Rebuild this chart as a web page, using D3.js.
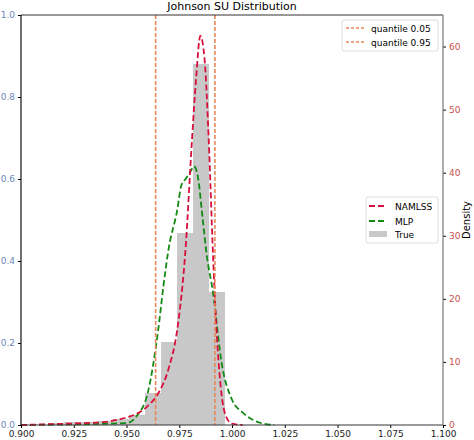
<!DOCTYPE html><html><head><script src="https://d3js.org/d3.v7.min.js"></script>
<style>body{margin:0;background:#fff}text{font-family:"DejaVu Sans",sans-serif}</style></head><body><svg id="c" width="474" height="440"></svg>
<script>
const xTicks=[0.900,0.925,0.950,0.975,1.000,1.025,1.050,1.075,1.100];
const leftTicks=[0.0,0.2,0.4,0.6,0.8,1.0];
const rightTicks=[0,10,20,30,40,50,60];
const binEdges=[0.9130,0.9206,0.9282,0.9358,0.9434,0.9510,0.9586,0.9662,0.9738,0.9814,0.9890,0.9966];
const binHeights=[0.3,0.4,0.5,0.6,1.0,1.6,5.0,13.2,30.4,57.3,21.1];
const namX=[0.90,0.91,0.93,0.94,0.95,0.955,0.96,0.965,0.97,0.974,0.978,0.981,0.983,0.985,0.987,0.989,0.991,0.9925,0.995,0.997,1.0,1.005];
const namY=[0,0.1,0.3,0.5,1.2,1.8,3,5,9,15,28,45,55,61.7,58,45,27,16,5,1.5,0.2,0];
const mlpX=[0.90,0.95,0.955,0.96,0.965,0.9675,0.97,0.974,0.976,0.978,0.980,0.982,0.984,0.986,0.988,0.991,0.995,1.0,1.005,1.01,1.015,1.02];
const mlpY=[0,0.3,1.5,5,15,22,28,34,38,39,40,41,39,33,27,21,10,4,2,0.8,0.2,0];
const quantiles=[0.9638,0.9919];

const svg=d3.select("#c");
const L=21,R=443,T=15,B=425;
const x=d3.scaleLinear().domain([0.9,1.1]).range([L,R]);
const yl=d3.scaleLinear().domain([0,1]).range([B,T]);
const yr=d3.scaleLinear().domain([0,65]).range([B,T]);
const g=svg.append("g").attr("shape-rendering","crispEdges");
binHeights.forEach((h,i)=>g.append("rect").attr("x",x(binEdges[i])).attr("width",x(binEdges[i+1])-x(binEdges[i])+0.5)
 .attr("y",yr(h)).attr("height",B-yr(h)).attr("fill","#c8c8c8"));
const line=d3.line().curve(d3.curveMonotoneX);
svg.append("path").attr("d",line(mlpX.map((v,i)=>[x(v),yr(mlpY[i])]))).attr("fill","none").attr("stroke","#138a13").attr("stroke-width",1.8).attr("stroke-dasharray","6,3");
svg.append("path").attr("d",line(namX.map((v,i)=>[x(v),yr(namY[i])]))).attr("fill","none").attr("stroke","#d6103b").attr("stroke-width",1.8).attr("stroke-dasharray","6,3");
quantiles.forEach(q=>svg.append("line").attr("x1",x(q)).attr("x2",x(q)).attr("y1",T).attr("y2",B).attr("stroke","#e8875a").attr("stroke-width",1.6).attr("stroke-dasharray","4,2"));
const xa=svg.append("g").attr("transform",`translate(0,${B})`).call(d3.axisBottom(x).tickValues(xTicks).tickFormat(d3.format(".3f")).tickSize(3));
xa.selectAll("text").attr("font-size",9).attr("fill","#222");
const la=svg.append("g").attr("transform",`translate(${L},0)`).call(d3.axisLeft(yl).tickValues(leftTicks).tickFormat(d3.format(".1f")).tickSize(3));
la.selectAll("text").attr("font-size",9).attr("fill","#6c88b8");
const ra=svg.append("g").attr("transform",`translate(${R},0)`).call(d3.axisRight(yr).tickValues(rightTicks).tickSize(3));
ra.selectAll("text").attr("font-size",9).attr("fill","#c8504d");
svg.selectAll(".domain").remove();
svg.append("line").attr("x1",L).attr("x2",R).attr("y1",T).attr("y2",T).attr("stroke","#333");
svg.append("line").attr("x1",L).attr("x2",R).attr("y1",B).attr("y2",B).attr("stroke","#333");
svg.append("line").attr("x1",L).attr("x2",L).attr("y1",T).attr("y2",B).attr("stroke","#111").attr("stroke-width",1.2);
svg.append("line").attr("x1",R).attr("x2",R).attr("y1",T).attr("y2",B).attr("stroke","#777").attr("stroke-width",1.2);
svg.append("text").attr("x",232).attr("y",10).attr("text-anchor","middle").attr("font-size",11).text("Johnson SU Distribution");
svg.append("text").attr("transform","translate(470,220) rotate(-90)").attr("text-anchor","middle").attr("font-size",10).text("Density");
const l1=svg.append("g");
l1.append("rect").attr("x",342).attr("y",20).attr("width",96).attr("height",31).attr("rx",2).attr("fill","#fff").attr("stroke","#ddd");
[["quantile 0.05",28],["quantile 0.95",42]].forEach(([t,yy])=>{
 l1.append("line").attr("x1",346).attr("x2",364).attr("y1",yy).attr("y2",yy).attr("stroke","#e8875a").attr("stroke-width",1.4).attr("stroke-dasharray","3,2");
 l1.append("text").attr("x",371).attr("y",yy+3.5).attr("font-size",9).text(t);});
const l2=svg.append("g");
l2.append("rect").attr("x",366).attr("y",197).attr("width",72).attr("height",46).attr("rx",2).attr("fill","#fff").attr("stroke","#ddd");
[["NAMLSS","#d6103b",206],["MLP","#138a13",221]].forEach(([t,c,yy])=>{
 l2.append("line").attr("x1",369).attr("x2",387).attr("y1",yy).attr("y2",yy).attr("stroke",c).attr("stroke-width",1.8).attr("stroke-dasharray","6,3");
 l2.append("text").attr("x",395).attr("y",yy+3.5).attr("font-size",9).text(t);});
l2.append("rect").attr("x",369).attr("y",231).attr("width",18).attr("height",6).attr("fill","#c8c8c8");
l2.append("text").attr("x",395).attr("y",238).attr("font-size",9).text("True");
</script></body></html>
